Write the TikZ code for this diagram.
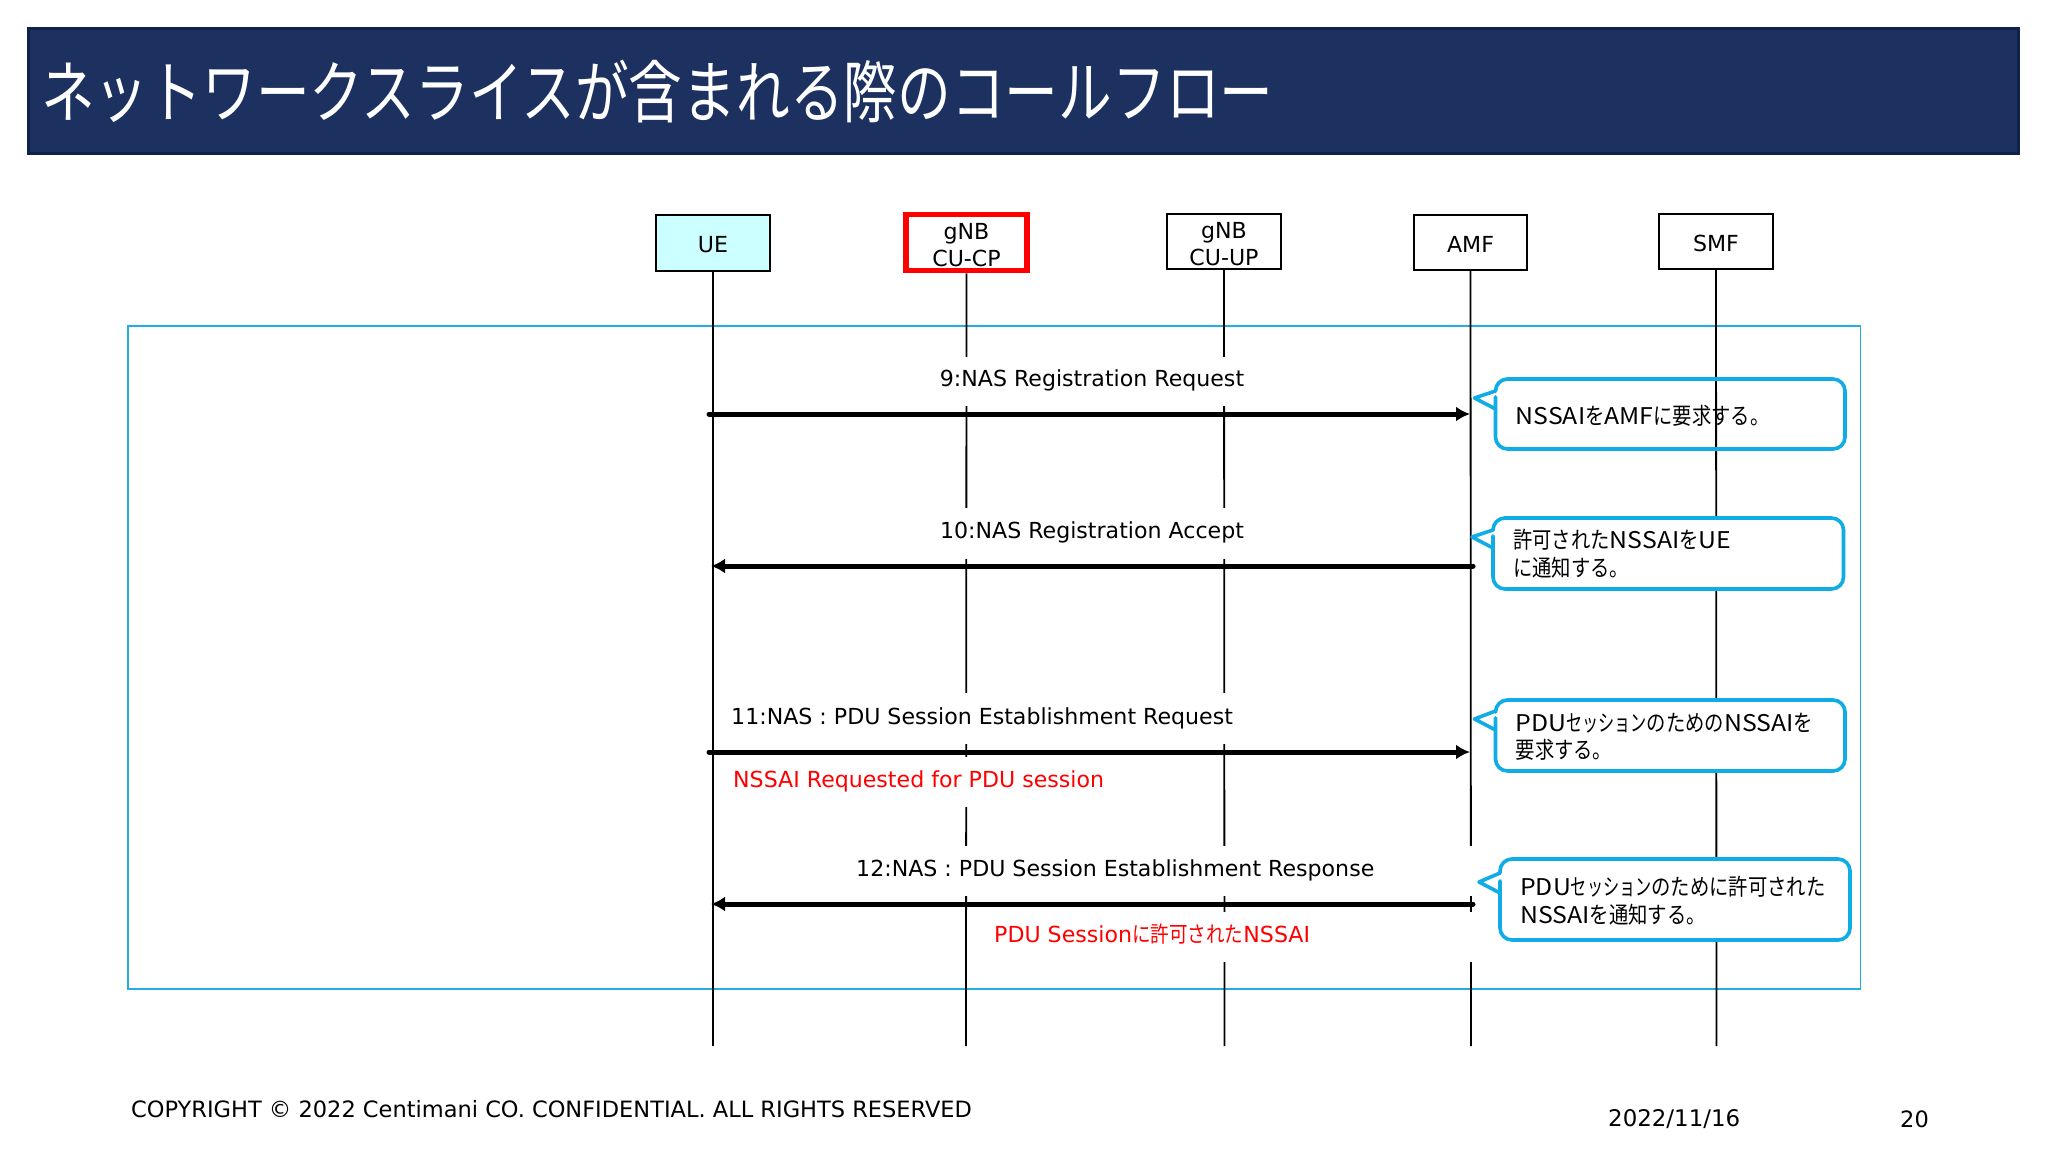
\documentclass[tikz,border=0pt]{standalone}
\usepackage{fontspec}
\setmainfont{DejaVu Sans}
\newfontfamily\jpfont[FakeStretch=0.84]{Noto Sans CJK JP}
\newfontfamily\jpkata[FakeStretch=0.70]{Noto Sans CJK JP}
\newfontfamily\jplatin[FakeStretch=1.08]{Noto Sans CJK JP}
\newfontfamily\jptitle[FakeStretch=0.79]{Noto Sans CJK JP}
\newcommand{\nl}[1]{{\jplatin #1}}
\newcommand{\nk}[1]{{\jpkata #1}}
\usetikzlibrary{arrows.meta}
\definecolor{titlebg}{HTML}{1C3160}
\definecolor{titleedge}{HTML}{10224A}
\definecolor{framecol}{HTML}{22AEE0}
\definecolor{bubble}{HTML}{10ACE6}
\definecolor{uefill}{HTML}{CCFFFF}
\newcommand{\callout}[9]{%
  % x1 y1 x2 y2 tipx tipy base1 base2 fill
  \draw[bubblestyle,fill=#9,rounded corners=12pt] (#3-40,#2) -- (#3,#2) -- (#3,#4) -- (#1,#4)
   -- (#1,#8) [sharp corners] -- (#1,#8) -- (#5,#6) -- (#1,#7) [rounded corners=12pt] -- (#1,#2) -- cycle;}
\tikzset{
  actor/.style={draw=black,line width=1.8pt,fill=white,inner sep=0,align=center,font=\fontsize{22.2}{25}\selectfont},
  life/.style={black,line width=1.8pt},
  msg/.style={black,line width=5pt,line cap=round},
  tipe/.style={-{Latex[length=14pt,width=15pt]}},
  lbl/.style={inner sep=0,font=\fontsize{22.1}{26}\selectfont,text=black},
  redlbl/.style={lbl,text=red},
  bubblestyle/.style={draw=bubble,line width=3.6pt,line join=round},
  note/.style={inner sep=0,anchor=west,align=left,text=black,font=\jpfont\fontsize{23}{27.4}\selectfont},
  foot/.style={inner sep=0,text=black,font=\fontsize{22.5}{26}\selectfont},
  mask/.style={fill=white,draw=none}
}
\begin{document}
\begin{tikzpicture}[x=1pt,y=-1pt]
\useasboundingbox (0,0) rectangle (2048,1152);
\fill[white] (0,0) rectangle (2048,1152);
% title
\node[draw=titleedge,line width=3pt,fill=titlebg,inner sep=0,minimum width=1990pt,minimum height=125pt,anchor=north west] (titlebar) at (27,27) {};
\node[inner sep=0,anchor=west,text=white,font=\jptitle\fontsize{68}{72}\selectfont] (titletext) at (41,91) {ネットワークスライスが含まれる際のコールフロー};
% frame
\draw[framecol,line width=1.8pt] (128,326) rectangle (1860.5,989);
% actors
\node[actor,fill=uefill,minimum width=114pt,minimum height=56pt] (ue) at (713,243) {};
\node[actor,draw=red,line width=5.5pt,minimum width=121pt,minimum height=56pt] (cp) at (966.5,242.5) {};
\node[actor,minimum width=114pt,minimum height=55pt] (up) at (1224,241.5) {};
\node[actor,minimum width=113pt,minimum height=55pt] (amf) at (1470.5,242.5) {};
\node[actor,minimum width=114pt,minimum height=55pt] (smf) at (1716,241.5) {};
\node[lbl] (uet) at (713,244.5) {UE};
\node[lbl] (amft) at (1470.5,244.5) {AMF};
\node[lbl] (smft) at (1716,243) {SMF};
\node[lbl] (cpa) at (966.5,233.5) {gNB};
\node[lbl] (cpb) at (966.5,258) {CU-CP};
\node[lbl] (upa) at (1224,232.5) {gNB};
\node[lbl] (upb) at (1224,257) {CU-UP};
% lifelines
\coordinate (ueend) at (713,1046);
\coordinate (cpend) at (966,1046);
\coordinate (upend) at (1224.5,1046);
\coordinate (amfend) at (1471,1046);
\coordinate (smfend) at (1716.5,1046);
\draw[life] (ue.south) -- (ueend);
\draw[life] (cp.south) -- (cpend);
\draw[life] (up.south) -- (upend);
\draw[life] (amf.south) -- (amfend);
\draw[life] (smf.south) -- (smfend);
% label backgrounds
\fill[mask] (730,357) rectangle (1400,406);
\fill[mask] (730,508) rectangle (1400,559);
\fill[mask] (730,693) rectangle (1240,744);
\fill[mask] (730,757) rectangle (1110,807);
\fill[mask] (730,846) rectangle (1490,896);
\fill[mask] (980,912) rectangle (1490,962);
% messages
\coordinate (m9a) at (709,414);   \coordinate (m9b) at (1470,414);
\coordinate (m10a) at (1473,566); \coordinate (m10b) at (711,566);
\coordinate (m11a) at (709,752);  \coordinate (m11b) at (1470,752);
\coordinate (m12a) at (1473,904); \coordinate (m12b) at (711,904);
\draw[msg,tipe] (m9a) -- (m9b);
\draw[msg,tipe] (m10a) -- (m10b);
\draw[msg,tipe] (m11a) -- (m11b);
\draw[msg,tipe] (m12a) -- (m12b);
\node[lbl] (l9) at (1092,380.5) {9:NAS Registration Request};
\node[lbl] (l10) at (1092,532.5) {10:NAS Registration Accept};
\node[lbl,anchor=west] (l11) at (731,718) {11:NAS : PDU Session Establishment Request};
\node[redlbl,anchor=west] (r11) at (733,781) {NSSAI Requested for PDU session};
\node[lbl,anchor=west] (l12) at (856,870) {12:NAS : PDU Session Establishment Response};
\node[redlbl,anchor=west] (r12) at (994,934) {PDU Session{\jpfont に許可された}NSSAI};
% callouts
\callout{1495.5}{379}{1845}{449}{1474.5}{398}{391}{409}{none}
\callout{1493}{518}{1843.5}{589}{1472}{537}{530}{548}{white}
\callout{1495.5}{700}{1845}{771}{1474.5}{719}{711}{730}{white}
\callout{1500}{859}{1850}{940}{1479}{882}{873}{893}{white}
\node[note] (n1) at (1515.5,416) {\nl{NSSAI}を\nl{AMF}に要求する。};
\node[note] (n2) at (1513,553.5) {許可された\nl{NSSAI}を\nl{UE}\\に通知する。};
\node[note] (n3) at (1515.5,736.5) {\nl{PDU}\nk{セッション}のための\nl{NSSAI}を\\要求する。};
\node[note] (n4) at (1520,900.5) {\nl{PDU}\nk{セッション}のために許可された\\\nl{NSSAI}を通知する。};
% footer
\node[foot,anchor=west] (copy) at (131,1109) {COPYRIGHT © 2022 Centimani CO. CONFIDENTIAL. ALL RIGHTS RESERVED};
\node[foot,anchor=west,font=\fontsize{22.9}{26}\selectfont] (date) at (1608,1119) {2022/11/16};
\node[foot,anchor=west] (page) at (1900,1119) {20};
\end{tikzpicture}
\end{document}
